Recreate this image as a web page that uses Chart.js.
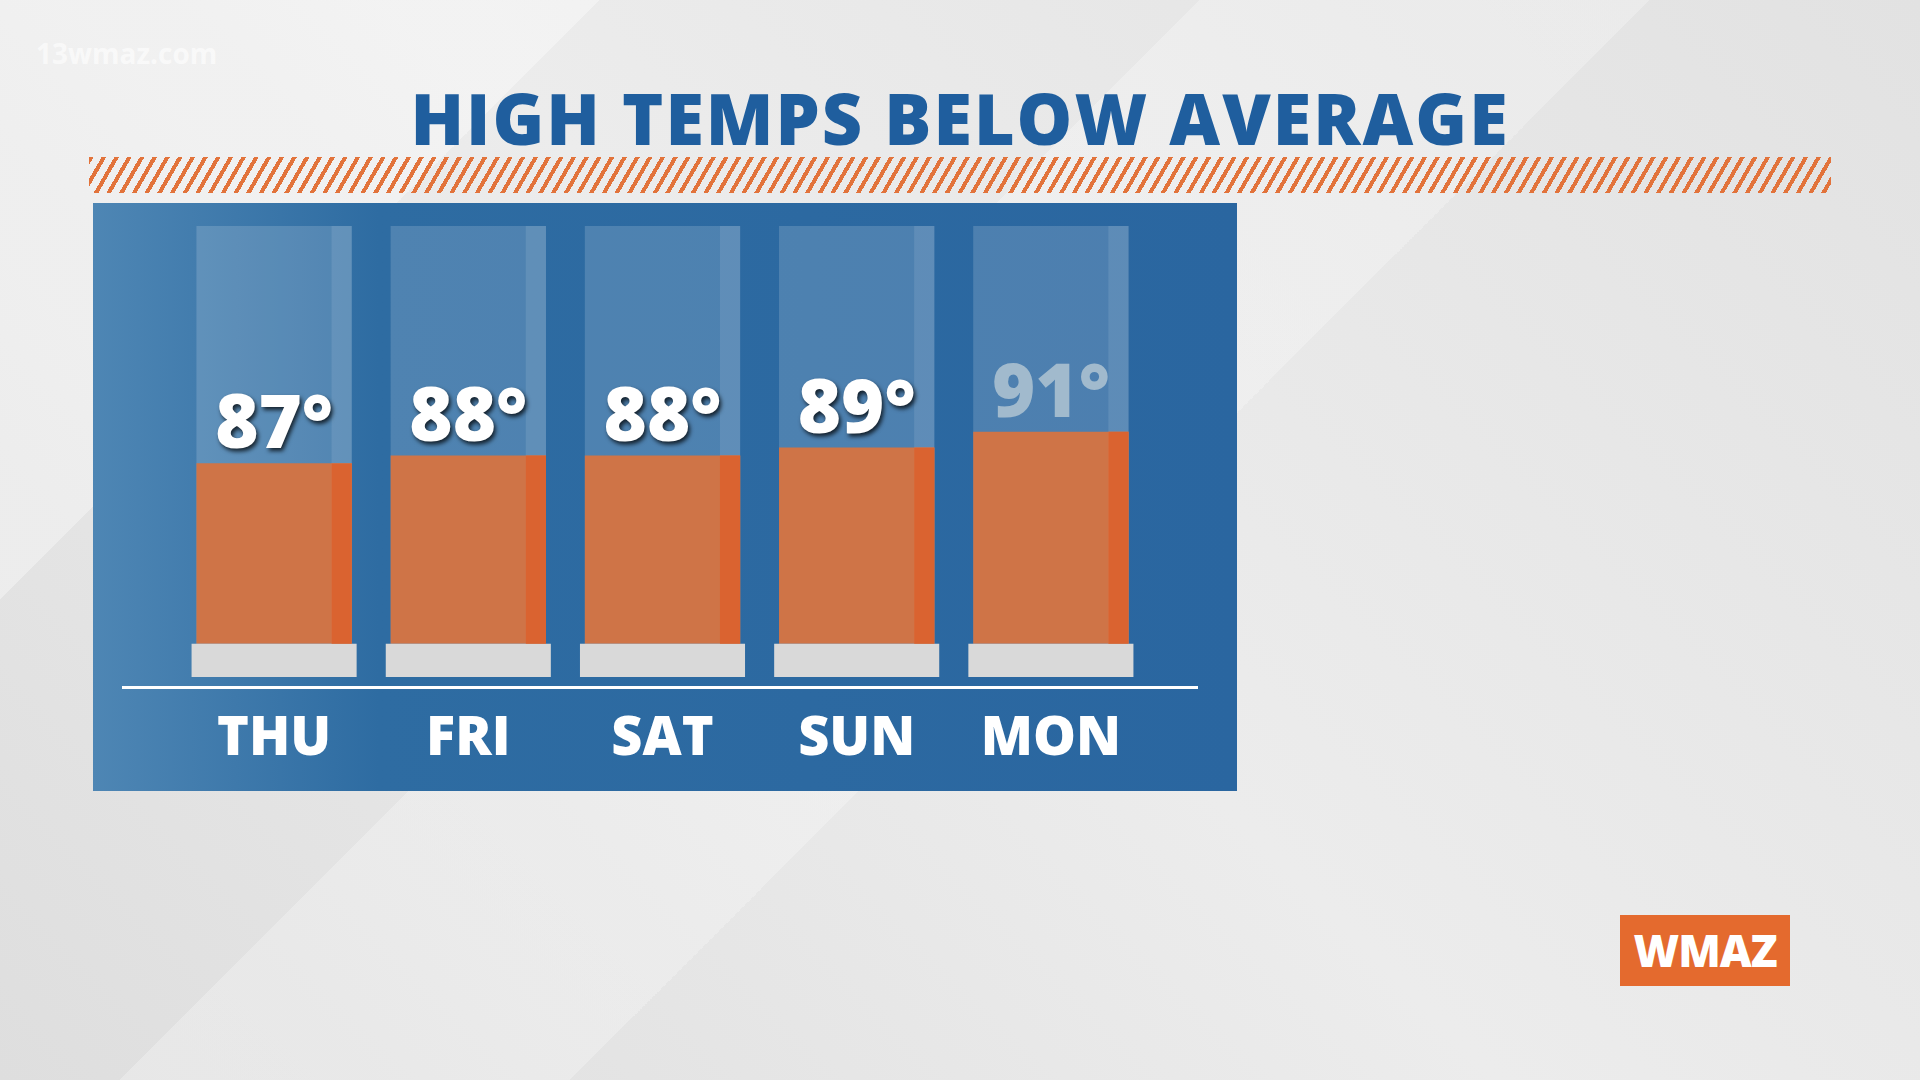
<!DOCTYPE html>
<html>
<head>
<meta charset="utf-8">
<script src="https://cdn.jsdelivr.net/npm/chart.js@4"></script>
<style>
  html, body { margin: 0; padding: 0; }
  body {
    width: 1920px; height: 1080px; overflow: hidden; position: relative;
    background:
      linear-gradient(135deg, rgba(255,255,255,0.35) 0 20%, transparent 20% 40%, rgba(255,255,255,0.25) 40% 55%, transparent 55%),
      linear-gradient(45deg, #dedede 0%, #ececec 50%, #e2e2e2 100%);
    font-family: "Open Sans", "DejaVu Sans", sans-serif;
  }
  #title {
    position: absolute; left: 0; width: 1920px; top: 70px; text-align: center;
    font-size: 70px; font-weight: 800; color: #1f5e9e; letter-spacing: 2px;
  }
  #hatch {
    position: absolute; left: 89px; top: 157px; width: 1742px; height: 36px;
    background: repeating-linear-gradient(120deg, #e2733b 0 4px, transparent 4px 11px);
  }
  #panel {
    position: absolute; left: 93px; top: 203px; width: 1144px; height: 588px;
    background: linear-gradient(90deg, #4e86b4 0%, #2e6ca2 25%, #2a66a0 100%);
  }
  #watermark {
    position: absolute; left: 36px; top: 34px; font-size: 28px; font-weight: 700;
    color: rgba(255,255,255,0.6);
  }
  #logo {
    position: absolute; left: 1620px; top: 915px; width: 170px; height: 71px;
    background: #e46a2e; color: #fff; font-size: 44px; font-weight: 800;
    line-height: 71px; text-align: center; letter-spacing: -1px;
  }
  canvas { position: absolute; left: 0; top: 0; }
</style>
</head>
<body>
<div id="watermark">13wmaz.com</div>
<div id="title">HIGH TEMPS BELOW AVERAGE</div>
<div id="hatch"></div>
<div id="panel"></div>
<div id="logo">WMAZ</div>
<canvas id="chart" width="1920" height="1080"></canvas>
<script>
const days = ['THU', 'FRI', 'SAT', 'SUN', 'MON'];
const highs = [87, 88, 88, 89, 91];
const axisMin = 60;
const baseTop = 64.2;
const axisMax = 117;

const ctx = document.getElementById('chart').getContext('2d');

const decor = {
    id: 'decor',
    afterDatasetsDraw(chart) {
        const c = chart.ctx;
        const x = chart.scales.x;
        // darker right strip on tubes and orange bars
        [0, 1].forEach(di => {
            chart.getDatasetMeta(di).data.forEach(bar => {
                const w = bar.width;
                const left = bar.x + w / 2 - w * 0.13;
                c.fillStyle = di === 0 ? 'rgba(255,255,255,0.10)' : '#da6330';
                c.fillRect(left, Math.min(bar.y, bar.base), w * 0.13, Math.abs(bar.base - bar.y));
            });
        });
        // white baseline
        c.fillStyle = '#ffffff';
        c.fillRect(122, chart.chartArea.bottom + 9, 1076, 3);
        // labels
        c.textAlign = 'center';
        c.textBaseline = 'middle';
        const orange = chart.getDatasetMeta(1).data;
        days.forEach((d, i) => {
            const px = x.getPixelForValue(i);
            c.font = '800 54px "Open Sans", sans-serif';
            c.fillStyle = '#ffffff';
            c.fillText(d, px, 740);
            c.save();
            c.font = '800 74px "Open Sans", sans-serif';
            const last = i === highs.length - 1;
            if (!last) {
                c.shadowColor = 'rgba(0,0,0,0.75)';
                c.shadowBlur = 4;
                c.shadowOffsetX = 2;
                c.shadowOffsetY = 3;
                c.fillStyle = '#ffffff';
            } else {
                c.fillStyle = 'rgba(190,205,215,0.75)';
            }
            c.fillText(highs[i] + '°', px, orange[i].y - 36);
            c.restore();
        });
    }
};

new Chart(ctx, {
    type: 'bar',
    data: {
        labels: days,
        datasets: [
            {
                data: days.map(() => [baseTop, axisMax]),
                backgroundColor: 'rgba(255,255,255,0.16)',
                barPercentage: 0.8, categoryPercentage: 1, grouped: false, order: 3
            },
            {
                data: highs.map(v => [baseTop, v]),
                backgroundColor: '#cf7447',
                barPercentage: 0.8, categoryPercentage: 1, grouped: false, order: 2
            },
            {
                data: days.map(() => [axisMin, baseTop]),
                backgroundColor: '#d9d9d9',
                barPercentage: 0.85, categoryPercentage: 1, grouped: false, order: 1
            }
        ]
    },
    options: {
        responsive: false,
        animation: false,
        layout: { padding: { left: 177, right: 772, top: 226, bottom: 403 } },
        plugins: { legend: { display: false }, tooltip: { enabled: false } },
        scales: {
            x: { display: false },
            y: { display: false, min: axisMin, max: axisMax }
        }
    },
    plugins: [decor]
});
</script>
</body>
</html>
